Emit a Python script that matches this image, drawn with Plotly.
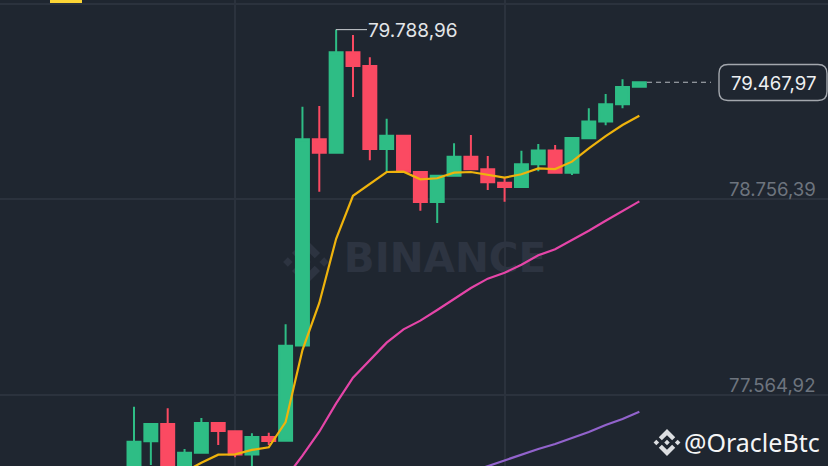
import plotly.graph_objects as go

W, H = 828, 466
BG = "#1f2630"; GRID = "#2b323d"; UP = "#2ebd85"; DOWN = "#fb4a62"

# candles (thousands separators dropped)
opens = [77105,77280,77385,77086,77210,77391,77341,77200,77306,77283,77864,79120,79039,79650,79567,79061,79142,
         78921,78738,78898,79014,78937,78856,78830,78968,79052,78917,79126,79228,79334,79441]
closes = [77277,77385,77100,77210,77391,77342,77200,77306,77281,77862,79120,79039,79650,79567,79061,79142,78923,
          78738,78898,79014,78937,78858,78830,78968,79052,78917,79128,79228,79334,79439,79467.97]
highs = [77491,77391,77481,77233,77422,77391,77341,77328,77332,77993,79319,79323,79788.96,79756,79620,79246,79148,
         78921,78898,79096,79146,79018,78889,79051,79092,79086,79134,79309,79396,79486,79467.97]
lows = [77050,77135,77060,77060,77207,77257,77182,77105,77257,77283,77864,78801,79039,79378,78992,78923,78923,
        78685,78610,78898,78937,78811,78740,78830,78925,78917,78903,79120,79206,79309,79441]
idx = list(range(len(opens)))

# moving averages, None where the line runs off the bottom of the picture
ma_yellow = [None,None,None,77093,77149,77198,77200,77227,77243,77397,77836,78123,78514,78776,78850,78921,78923,
             78876,78883,78917,78921,78904,78887,78907,78943,78939,78984,79065,79140,79207,79264]
ma_pink = [None]*9 + [77056,77192,77338,77511,77667,77775,77881,77962,78015,78080,78147,78214,78271,78307,78356,
                      78413,78450,78506,78563,78624,78685,78742]
ma_purple = [None]*20 + [77093,77129,77164,77198,77233,77263,77298,77336,77379,77416,77460]

price_ticks = [77564.92, 78756.39, 79947.86]
tick_labels = ["77.564,92", "78.756,39"]
high_label = "79.788,96"
last_label = "79.467,97"

# pixel <-> axis helpers
PX0, PXSTEP = 134.0, 16.845
PY0, PYSTEP = 199.0, 6.0945
xr = [(0-PX0)/PXSTEP, (W-PX0)/PXSTEP]
yr = [price_ticks[1]-(H-PY0)*PYSTEP, price_ticks[1]+PY0*PYSTEP]
def px(x): return x/W
def py(y): return 1-y/H
def path(pts): return "M"+" L".join(f"{px(a):.5f},{py(b):.5f}" for a,b in pts)+" Z"

def logo(cx, cy, r, color, layer):
    parts = []
    for ox, oy in [(0,0),(-.79,0),(.79,0)]:
        d = .205
        parts.append([(ox,oy-d),(ox+d,oy),(ox,oy+d),(ox-d,oy)])
    top = [(0,-1),(.61,-.39),(.38,-.16),(0,-.54),(-.38,-.16),(-.61,-.39)]
    parts.append(top); parts.append([(a,-b) for a,b in top])
    return [dict(type="path", xref="paper", yref="paper", layer=layer, line_width=0, fillcolor=color,
                 path=path([(cx+a*r,cy+b*r) for a,b in p])) for p in parts]

def pill(x0, y0, x1, y1, r):
    s = f"M{px(x0+r)},{py(y0)} L{px(x1-r)},{py(y0)} Q{px(x1)},{py(y0)} {px(x1)},{py(y0+r)} "
    s += f"L{px(x1)},{py(y1-r)} Q{px(x1)},{py(y1)} {px(x1-r)},{py(y1)} L{px(x0+r)},{py(y1)} "
    s += f"Q{px(x0)},{py(y1)} {px(x0)},{py(y1-r)} L{px(x0)},{py(y0+r)} Q{px(x0)},{py(y0)} {px(x0+r)},{py(y0)} Z"
    return s

fig = go.Figure()
# watermark goes first so the lines sit on top of it
fig.add_trace(go.Scatter(x=[(445-PX0)/PXSTEP], y=[price_ticks[1]-(262-PY0)*PYSTEP], mode="text", text=["BINANCE"],
                         textposition="middle center", textfont=dict(family="DejaVu Sans", size=40.5, color="#2d3441", weight=700),
                         hoverinfo="skip", showlegend=False))
fig.add_trace(go.Candlestick(x=idx, open=opens, high=highs, low=lows, close=closes, showlegend=False,
                             increasing=dict(line=dict(color=UP, width=2), fillcolor=UP),
                             decreasing=dict(line=dict(color=DOWN, width=2), fillcolor=DOWN)))
for vals, col in [(ma_purple, "#9263cc"), (ma_pink, "#e545a8"), (ma_yellow, "#efb30c")]:
    fig.add_trace(go.Scatter(x=idx, y=vals, mode="lines", line=dict(color=col, width=2.2), hoverinfo="skip", showlegend=False))

shapes = logo(306, 262, 23, "#2d3441", "below") + logo(667, 442.5, 13.5, "#dcdee1", "above")
shapes += [
    dict(type="rect", xref="paper", yref="paper", x0=px(50), x1=px(82), y0=py(0), y1=py(3), fillcolor="#fcd535", line_width=0),
    dict(type="line", xref="paper", yref="y", x0=px(336), x1=px(367), y0=highs[12], y1=highs[12], line=dict(color="#b4b8bd", width=1.2)),
    dict(type="line", xref="paper", yref="y", x0=px(647), x1=px(711), y0=closes[-1], y1=closes[-1], line=dict(color="#b4b8bd", width=1.2, dash="5px,4px")),
    dict(type="path", xref="paper", yref="paper", path=pill(719, 64.5, 827, 100.5, 9), fillcolor=BG, line=dict(color="#a3a7ad", width=1.4)),
]
fig.update_layout(shapes=shapes)

def label(x, y, text, size, color, anchor="right", family="Inter"):
    fig.add_annotation(xref="paper", yref="paper", x=px(x), y=py(y), text=text, showarrow=False, xanchor=anchor,
                       yanchor="middle", font=dict(family=family, size=size, color=color))

label(818, 188.5, tick_labels[1], 18.6, "#6d747e")
label(818, 384.5, tick_labels[0], 18.6, "#6d747e")
label(366, 30.5, high_label, 19, "#e3e5e8", "left")
label(773, 83, last_label, 18.6, "#eef0f2", "center")
label(682, 442, "@OracleBtc", 25, "#f4f5f6", "left", "Noto Sans")

fig.update_layout(width=W, height=H, margin=dict(l=0, r=0, t=0, b=0), paper_bgcolor=BG, plot_bgcolor=BG,
                  boxgap=0.23, boxgroupgap=0, showlegend=False, hovermode=False,
                  xaxis=dict(range=xr, rangeslider=dict(visible=False), tickvals=[6, 22], showticklabels=False, ticks="",
                             gridcolor=GRID, gridwidth=1.5, zeroline=False, showline=False, fixedrange=True),
                  yaxis=dict(range=yr, tickvals=price_ticks, showticklabels=False, ticks="", gridcolor=GRID, gridwidth=1.5,
                             zeroline=False, showline=False, fixedrange=True))
fig.write_html("out.html", config=dict(displayModeBar=False), post_script="document.body.style.margin=0;")
